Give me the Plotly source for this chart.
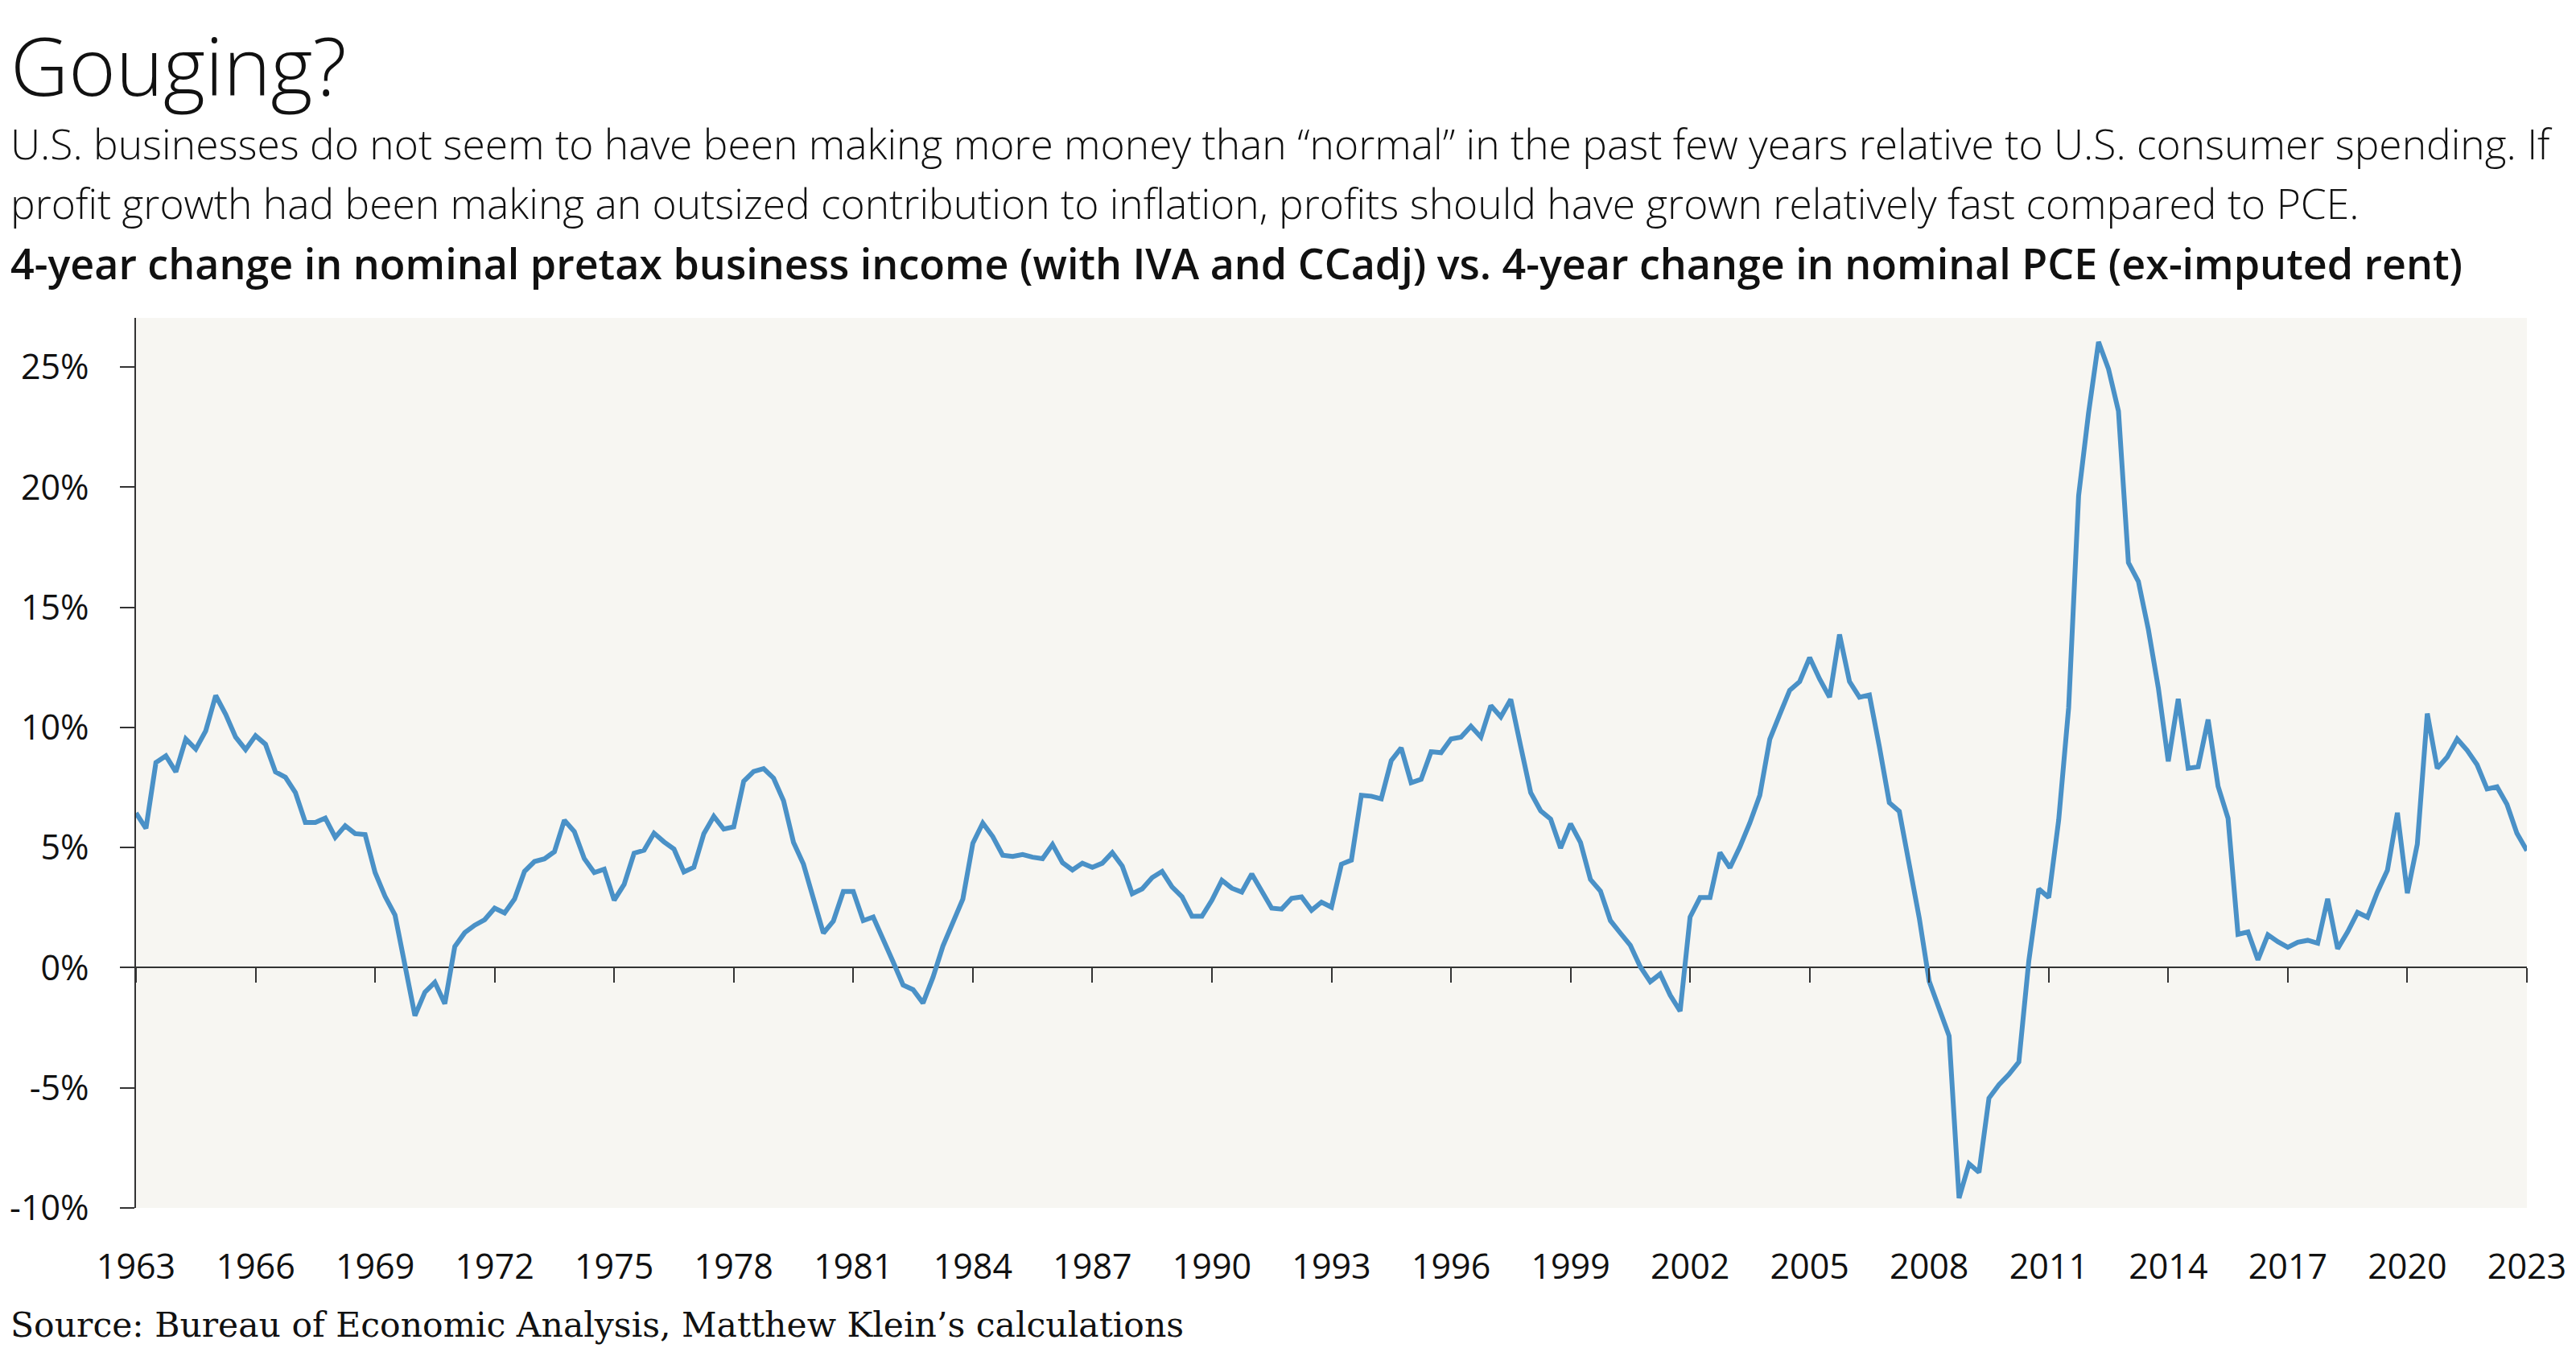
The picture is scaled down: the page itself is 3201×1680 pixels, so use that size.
import plotly.graph_objects as go

# ---------------- data (quarterly, 1963Q1 .. 2023Q1), % ----------------
start_year = 1963
quarters_per_year = 4

pct_1963_1973 = [6.44, 5.80, 8.54, 8.82, 8.15, 9.52, 9.10, 9.86, 11.33, 10.55,
                 9.60, 9.08, 9.66, 9.30, 8.15, 7.93, 7.29, 6.05, 6.05, 6.23,
                 5.43, 5.91, 5.58, 5.54, 3.96, 2.97, 2.19, 0.04, -2.00, -1.02,
                 -0.61, -1.50, 0.88, 1.46, 1.77, 2.00, 2.48, 2.28, 2.86, 4.01,
                 4.42, 4.53]
pct_1973_1983 = [4.83, 6.14, 5.67, 4.54, 3.96, 4.10, 2.81, 3.47, 4.77, 4.89,
                 5.60, 5.24, 4.94, 3.99, 4.18, 5.58, 6.30, 5.77, 5.86, 7.76,
                 8.17, 8.29, 7.89, 6.95, 5.22, 4.31, 2.78, 1.44, 1.94, 3.17,
                 3.17, 1.96, 2.11, 1.11, 0.24, -0.72, -0.91, -1.47, -0.40, 0.90]
pct_1983_1993 = [1.83, 2.86, 5.18, 6.02, 5.46, 4.68, 4.63, 4.71, 4.60, 4.54,
                 5.13, 4.37, 4.07, 4.35, 4.18, 4.35, 4.79, 4.23, 3.08, 3.28,
                 3.75, 4.01, 3.36, 2.95, 2.14, 2.14, 2.81, 3.64, 3.31, 3.15,
                 3.90, 3.19, 2.48, 2.44, 2.89, 2.95, 2.39, 2.73, 2.52, 4.31]
pct_1993_2002 = [4.48, 7.18, 7.14, 7.03, 8.62, 9.15, 7.70, 7.84, 8.99, 8.95,
                 9.52, 9.60, 10.05, 9.60, 10.91, 10.44, 11.17, 9.21, 7.29, 6.53,
                 6.19, 4.98, 5.99, 5.21, 3.67, 3.19, 1.96, 1.44, 0.93, 0.04,
                 -0.58, -0.26, -1.14, -1.81, 2.11, 2.92, 2.92]
pct_2002_2012 = [4.79, 4.16, 5.03, 6.03, 7.18, 9.51, 10.54, 11.55, 11.91, 12.91,
                 12.02, 11.26, 13.87, 11.91, 11.26, 11.35, 9.20, 6.87, 6.51, 4.23,
                 2.08, -0.56, -1.76, -2.84, -9.59, -8.16, -8.52, -5.43, -4.87, -4.44,
                 -3.92, 0.28, 3.28, 2.92, 6.15, 10.83, 19.65, 23.10, 26.05, 24.92,
                 23.17]
pct_2013_2023 = [16.86, 16.08, 14.08, 11.65, 8.59, 11.19, 8.30, 8.36, 10.33, 7.55,
                 6.22, 1.39, 1.49, 0.33, 1.37, 1.08, 0.85, 1.06, 1.14, 1.02,
                 2.87, 0.79, 1.49, 2.30, 2.10, 3.16, 4.06, 6.45, 3.10, 5.15,
                 10.58, 8.30, 8.77, 9.52, 9.05, 8.45, 7.44, 7.53, 6.80, 5.59,
                 4.87]

values = (pct_1963_1973 + pct_1973_1983 + pct_1983_1993 +
          pct_1993_2002 + pct_2002_2012 + pct_2013_2023)
years = [start_year + i / quarters_per_year for i in range(len(values))]

x_tick_years = list(range(1963, 2024, 3))
x_tick_labels = [str(y) for y in x_tick_years]
y_tick_vals = [-10, -5, 0, 5, 10, 15, 20, 25]
y_tick_labels = ["-10%", "-5%", "0%", "5%", "10%", "15%", "20%", "25%"]

title_text = "Gouging?"
subtitle_1 = ("U.S. businesses do not seem to have been making more money than \u201cnormal\u201d "
              "in the past few years relative to U.S. consumer spending. If")
subtitle_2 = ("profit growth had been making an outsized contribution to inflation, "
              "profits should have grown relatively fast compared to PCE.")
chart_label = ("4-year change in nominal pretax business income (with IVA and CCadj) "
               "vs. 4-year change in nominal PCE (ex-imputed rent)")
source_text = "Source: Bureau of Economic Analysis, Matthew Klein\u2019s calculations"

# ---------------- layout geometry ----------------
W, H = 3201, 1680
L, R, T, B = 157, 54, 395, 179
PW, PH = W - L - R, H - T - B
x_range = [1963, 2023]
y_range = [-10, 27.05]
zero_pos = (0 - y_range[0]) / (y_range[1] - y_range[0])

def px_x(px):
    return (px - L) / PW

def px_y(py):
    return (H - B - py) / PH

SANS = "Open Sans"
SERIF = "DejaVu Serif"
INK = "#111111"
AX = "#333333"
TXT_X = -2

fig = go.Figure()
fig.add_trace(go.Scatter(
    x=years, y=values, mode="lines",
    line=dict(color="#4a91c7", width=6),
    hoverinfo="skip", showlegend=False,
))
# helper trace so the tick-only axis along the zero line is drawn
fig.add_trace(go.Scatter(
    x=[years[0]], y=[values[0]], xaxis="x2", mode="markers",
    marker=dict(opacity=0), hoverinfo="skip", showlegend=False,
))

fig.update_layout(
    width=W, height=H,
    margin=dict(l=L, r=R, t=T, b=B, pad=0),
    paper_bgcolor="white",
    plot_bgcolor="#f7f6f2",
    showlegend=False,
    xaxis=dict(
        range=x_range, tickmode="array", tickvals=x_tick_years, ticktext=x_tick_labels,
        ticks="", showgrid=False, zeroline=False, showline=False,
        tickfont=dict(family=SANS, size=43, color=INK),
        ticklabelstandoff=44,
    ),
    xaxis2=dict(
        range=x_range, overlaying="x", anchor="free", position=zero_pos,
        tickmode="array", tickvals=x_tick_years, showticklabels=False,
        ticks="outside", ticklen=18, tickwidth=1.5, tickcolor=AX,
        showgrid=False, zeroline=False, showline=False,
    ),
    yaxis=dict(
        range=y_range, tickmode="array", tickvals=y_tick_vals, ticktext=y_tick_labels,
        ticks="outside", ticklen=18, tickwidth=1.5, tickcolor=AX,
        showline=True, linecolor=AX, linewidth=1.5,
        showgrid=False, zeroline=True, zerolinecolor=AX, zerolinewidth=1.5,
        tickfont=dict(family=SANS, size=43, color=INK),
        ticklabelstandoff=30,
    ),
    annotations=[
        dict(text=title_text, xref="paper", yref="paper", x=px_x(TXT_X), y=px_y(80),
             xanchor="left", yanchor="middle", showarrow=False,
             font=dict(family=SANS, size=100, color=INK, weight=300)),
        dict(text=subtitle_1, xref="paper", yref="paper", x=px_x(TXT_X), y=px_y(178),
             xanchor="left", yanchor="middle", showarrow=False,
             font=dict(family=SANS, size=51.5, color=INK, weight=300)),
        dict(text=subtitle_2, xref="paper", yref="paper", x=px_x(TXT_X), y=px_y(252),
             xanchor="left", yanchor="middle", showarrow=False,
             font=dict(family=SANS, size=51.5, color=INK, weight=300)),
        dict(text=chart_label, xref="paper", yref="paper", x=px_x(TXT_X), y=px_y(326),
             xanchor="left", yanchor="middle", showarrow=False,
             font=dict(family=SANS, size=52, color=INK, weight=600)),
        dict(text=source_text, xref="paper", yref="paper", x=px_x(TXT_X), y=px_y(1646),
             xanchor="left", yanchor="middle", showarrow=False,
             font=dict(family=SERIF, size=42.5, color=INK)),
    ],
)

fig.write_html("out.html")
